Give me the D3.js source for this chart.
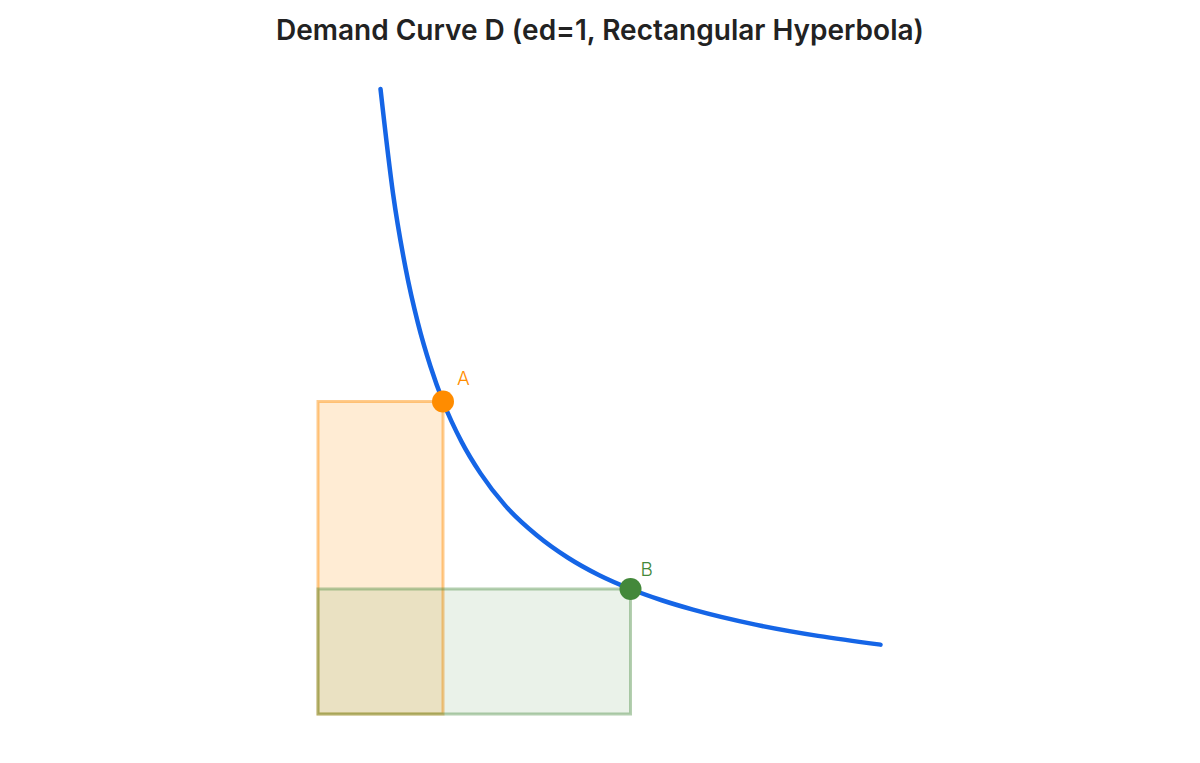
<!DOCTYPE html>
<html>
<head>
<meta charset="utf-8">
<script src="https://cdn.jsdelivr.net/npm/d3@7"></script>
<style>
  body { margin: 0; background: #fff; }
  text { font-family: Inter, "Noto Sans", sans-serif; }
</style>
</head>
<body>
<svg width="1200" height="763"></svg>
<script>
// demand curve points (p*q = 10)
const quantity = [1, 1.2, 1.4, 1.6, 1.8, 2, 2.3, 2.6, 3, 3.5, 4, 4.5, 5, 5.5, 6, 7, 8, 9];
const price    = [10, 8.33, 7.14, 6.25, 5.56, 5, 4.35, 3.85, 3.33, 2.86, 2.5, 2.22, 2, 1.82, 1.67, 1.43, 1.25, 1.11];

const pointNames = ['A', 'B'];
const pointQ = [2, 5];
const pointP = [5, 2];

const svg = d3.select('svg');
const width = +svg.attr('width');

const colors = { A: '#ff8c00', B: '#43883a' };
const labelOffset = { A: [14, -17], B: [10, -13] };

const x = d3.scaleLinear().domain([0, 10]).range([318, 943]);
const y = d3.scaleLinear().domain([0, 10]).range([714, 89]);

svg.append('text')
  .attr('x', width / 2)
  .attr('y', 40)
  .attr('text-anchor', 'middle')
  .attr('font-size', 28)
  .attr('font-weight', 600)
  .attr('fill', '#222')
  .text('Demand Curve D (ed=1, Rectangular Hyperbola)');

/* revenue rectangles */
const pts = pointNames.map((n, i) => ({ name: n, q: pointQ[i], p: pointP[i] }));

svg.selectAll('rect.rev')
  .data(pts)
  .enter()
  .append('rect')
  .attr('class', 'rev')
  .attr('x', x(0))
  .attr('y', d => y(d.p))
  .attr('width', d => x(d.q) - x(0))
  .attr('height', d => y(0) - y(d.p))
  .attr('fill', d => colors[d.name])
  .attr('fill-opacity', d => d.name === 'A' ? 0.17 : 0.11)
  .attr('stroke', d => colors[d.name])
  .attr('stroke-opacity', d => d.name === 'A' ? 0.45 : 0.4)
  .attr('stroke-width', 3);

/* curve */
const line = d3.line()
  .x(d => x(d[0]))
  .y(d => y(d[1]))
  .curve(d3.curveMonotoneX);

svg.append('path')
  .datum(quantity.map((q, i) => [q, price[i]]))
  .attr('d', line)
  .attr('fill', 'none')
  .attr('stroke', '#1565e6')
  .attr('stroke-width', 4.5)
  .attr('stroke-linecap', 'round');

/* points + labels */
svg.selectAll('circle.pt')
  .data(pts)
  .enter()
  .append('circle')
  .attr('class', 'pt')
  .attr('cx', d => x(d.q))
  .attr('cy', d => y(d.p))
  .attr('r', 11)
  .attr('fill', d => colors[d.name]);

svg.selectAll('text.lbl')
  .data(pts)
  .enter()
  .append('text')
  .attr('class', 'lbl')
  .attr('x', d => x(d.q) + labelOffset[d.name][0])
  .attr('y', d => y(d.p) + labelOffset[d.name][1])
  .attr('font-size', 19)
  .attr('font-weight', 300)
  .attr('fill', d => colors[d.name])
  .text(d => d.name);
</script>
</body>
</html>
